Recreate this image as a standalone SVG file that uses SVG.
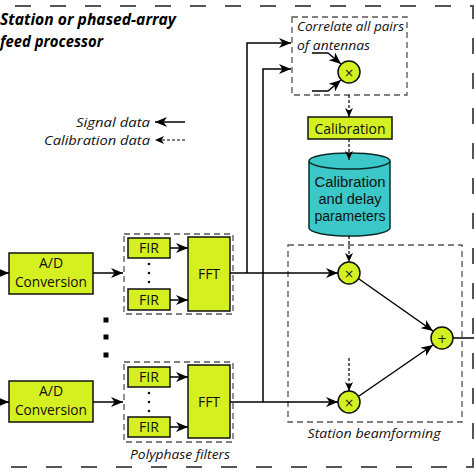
<svg xmlns="http://www.w3.org/2000/svg" width="474" height="474" viewBox="0 0 474 474">
<defs>
<marker id="ah" markerUnits="userSpaceOnUse" markerWidth="13" markerHeight="10" refX="12" refY="5" orient="auto">
<path d="M0,0 L12,5 L0,10 L3.5,5 z" fill="#000"/>
</marker>
<marker id="ahs" markerUnits="userSpaceOnUse" markerWidth="10" markerHeight="8" refX="9" refY="4" orient="auto">
<path d="M0,0 L9,4 L0,8 L2.5,4 z" fill="#000"/>
</marker>
</defs>
<style>
.blk{fill:#d4f020;stroke:#111;stroke-width:1.5}
.grp{fill:none;stroke:#555;stroke-width:1.3;stroke-dasharray:6,4}
.outer{fill:none;stroke:#555;stroke-width:2;stroke-dasharray:16,19}
.sig{fill:none;stroke:#000;stroke-width:1.5}
.cal{fill:none;stroke:#000;stroke-width:1.2;stroke-dasharray:3,2}
.t{font-family:"Open Sans","Liberation Sans",sans-serif;font-size:14px;fill:#111;text-anchor:middle}
.tc{font-family:"Liberation Sans","Open Sans",sans-serif;font-size:14px;fill:#111;text-anchor:middle}
.it{font-family:"Open Sans","Liberation Sans",sans-serif;font-style:italic;font-size:13.5px;fill:#111}
.op{font-family:"DejaVu Sans",sans-serif;font-size:12px;fill:#222;text-anchor:middle}
</style>
<rect width="474" height="474" fill="#fff"/>
<!-- outer frame -->
<path class="outer" d="M-20,6 H473 V467 H-20"/>
<g id="title">
<text x="0" y="25" font-family="Open Sans, Liberation Sans, sans-serif" font-weight="bold" font-style="italic" font-size="16.5" textLength="176" lengthAdjust="spacingAndGlyphs">Station or phased-array</text>
<text x="0" y="47" font-family="Open Sans, Liberation Sans, sans-serif" font-weight="bold" font-style="italic" font-size="16.5" textLength="103" lengthAdjust="spacingAndGlyphs">feed processor</text>
</g>
<g id="legend">
<text class="it" x="150" y="127" text-anchor="end" textLength="74" lengthAdjust="spacingAndGlyphs">Signal data</text>
<text class="it" x="150" y="145" text-anchor="end" textLength="106" lengthAdjust="spacingAndGlyphs">Calibration data</text>
<line class="sig" x1="185" y1="122" x2="155" y2="122" marker-end="url(#ah)"/>
<line class="cal" x1="185" y1="140" x2="155" y2="140" marker-end="url(#ahs)"/>
</g>
<g id="correlate">
<rect class="grp" x="292" y="17" width="115" height="78"/>
<text class="it" x="297" y="31" textLength="107" lengthAdjust="spacingAndGlyphs">Correlate all pairs</text>
<text class="it" x="297" y="50" textLength="73" lengthAdjust="spacingAndGlyphs">of antennas</text>
<circle class="blk" cx="349" cy="72" r="11"/>
<text class="op" x="349" y="76.5">×</text>
</g>
<g id="calibration">
<rect class="blk" x="308" y="117" width="84" height="22"/>
<text class="t" x="350" y="134" textLength="71" lengthAdjust="spacingAndGlyphs">Calibration</text>
</g>
<g id="params">
<path d="M309,161 V228 A40.5,8 0 0 0 390,228 V161" fill="#3cc8c8" stroke="#0d2b2b" stroke-width="1.5"/>
<ellipse cx="349.5" cy="161" rx="40.5" ry="8" fill="#3cc8c8" stroke="#0d2b2b" stroke-width="1.5"/>
<text class="tc" x="350" y="187" textLength="71" lengthAdjust="spacingAndGlyphs">Calibration</text>
<text class="tc" x="350" y="204" textLength="63" lengthAdjust="spacingAndGlyphs">and delay</text>
<text class="tc" x="350" y="221" textLength="71" lengthAdjust="spacingAndGlyphs">parameters</text>
</g>
<g id="beamforming">
<rect class="grp" x="288" y="245" width="174" height="177"/>
<text class="it" x="374" y="438" text-anchor="middle" textLength="133" lengthAdjust="spacingAndGlyphs">Station beamforming</text>
<circle class="blk" cx="349" cy="273" r="11"/>
<text class="op" x="349" y="277.5">×</text>
<circle class="blk" cx="349" cy="402" r="11"/>
<text class="op" x="349" y="406.5">×</text>
<circle class="blk" cx="442" cy="338" r="11"/>
<text class="op" x="442" y="342.5">+</text>
</g>
<g id="channel1">
<rect class="blk" x="9" y="253" width="84" height="41"/>
<text class="t" x="51" y="268">A/D</text>
<text class="t" x="51" y="287" textLength="72" lengthAdjust="spacingAndGlyphs">Conversion</text>
<rect class="grp" x="124" y="234" width="109" height="80"/>
<rect class="blk" x="128" y="238" width="42" height="20"/>
<text class="t" x="149" y="253">FIR</text>
<rect class="blk" x="128" y="289" width="42" height="21"/>
<text class="t" x="149" y="305">FIR</text>
<circle cx="149" cy="264" r="1.3" fill="#111"/>
<circle cx="149" cy="273" r="1.3" fill="#111"/>
<circle cx="149" cy="282" r="1.3" fill="#111"/>
<rect class="blk" x="188" y="237" width="42" height="74"/>
<text class="t" x="209" y="279">FFT</text>
</g>
<g id="ellipsis">
<rect x="103.5" y="317.5" width="5" height="5" fill="#000"/>
<rect x="103.5" y="334.5" width="5" height="5" fill="#000"/>
<rect x="103.5" y="352.5" width="5" height="5" fill="#000"/>
</g>
<g id="channelN">
<rect class="blk" x="9" y="381" width="84" height="41"/>
<text class="t" x="51" y="396">A/D</text>
<text class="t" x="51" y="415" textLength="72" lengthAdjust="spacingAndGlyphs">Conversion</text>
<rect class="grp" x="124" y="362" width="109" height="80"/>
<rect class="blk" x="128" y="367" width="42" height="20"/>
<text class="t" x="149" y="382">FIR</text>
<rect class="blk" x="128" y="417" width="42" height="20"/>
<text class="t" x="149" y="432">FIR</text>
<circle cx="149" cy="393" r="1.3" fill="#111"/>
<circle cx="149" cy="402" r="1.3" fill="#111"/>
<circle cx="149" cy="411" r="1.3" fill="#111"/>
<rect class="blk" x="188" y="365" width="42" height="73"/>
<text class="t" x="209" y="407">FFT</text>
<text class="it" x="180" y="459" text-anchor="middle" textLength="100" lengthAdjust="spacingAndGlyphs">Polyphase filters</text>
</g>
<g id="connectors">
<line class="sig" x1="-2" y1="273" x2="9" y2="273" marker-end="url(#ah)"/>
<line class="sig" x1="93" y1="273" x2="123" y2="273" marker-end="url(#ah)"/>
<line class="sig" x1="170" y1="248" x2="188" y2="248" marker-end="url(#ah)"/>
<line class="sig" x1="170" y1="300" x2="188" y2="300" marker-end="url(#ah)"/>
<line class="sig" x1="-2" y1="402" x2="9" y2="402" marker-end="url(#ah)"/>
<line class="sig" x1="93" y1="402" x2="123" y2="402" marker-end="url(#ah)"/>
<line class="sig" x1="170" y1="377" x2="188" y2="377" marker-end="url(#ah)"/>
<line class="sig" x1="170" y1="427" x2="188" y2="427" marker-end="url(#ah)"/>
<line class="sig" x1="230" y1="273" x2="338" y2="273" marker-end="url(#ah)"/>
<line class="sig" x1="230" y1="402" x2="338" y2="402" marker-end="url(#ah)"/>
<path class="sig" d="M247,273 V43 H291" marker-end="url(#ah)"/>
<path class="sig" d="M263,402 V69 H291" marker-end="url(#ah)"/>
<path class="sig" d="M312,53 H328 L341,64" marker-end="url(#ah)"/>
<path class="sig" d="M312,91 H328 L341,80" marker-end="url(#ah)"/>
<line class="sig" x1="359" y1="279" x2="433" y2="331" marker-end="url(#ah)"/>
<line class="sig" x1="359" y1="396" x2="433" y2="345" marker-end="url(#ah)"/>
<line class="sig" x1="453" y1="338" x2="476" y2="338"/>
<line class="cal" x1="349" y1="95" x2="349" y2="117" marker-end="url(#ahs)"/>
<line class="cal" x1="349" y1="139" x2="349" y2="160" marker-end="url(#ahs)"/>
<line class="cal" x1="349" y1="236" x2="349" y2="262" marker-end="url(#ahs)"/>
<line class="cal" x1="349" y1="358" x2="349" y2="391" marker-end="url(#ahs)"/>
</g>
</svg>
